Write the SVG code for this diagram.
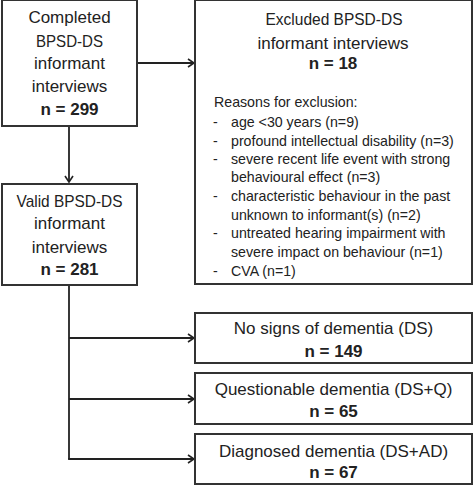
<svg xmlns="http://www.w3.org/2000/svg" width="474" height="486" viewBox="0 0 474 486">
<defs>
<marker id="arr" markerWidth="10" markerHeight="10" refX="7" refY="5" orient="auto" markerUnits="userSpaceOnUse">
<path d="M1,1 L7,5 L1,9" fill="none" stroke="#222" stroke-width="1.6"/>
</marker>
</defs>
<style>
.box{fill:#fff;stroke:#333;stroke-width:2}
.t{font-family:"Liberation Sans",Arial,sans-serif;font-size:17px;fill:#222;text-anchor:middle}
.b{font-weight:bold}
.s{font-family:"Liberation Sans",Arial,sans-serif;font-size:14.2px;fill:#222}
.c{fill:none;stroke:#222;stroke-width:1.8}
</style>
<rect width="474" height="486" fill="#fff"/>
<g id="connectors">
<line class="c" x1="137" y1="63" x2="194" y2="63" marker-end="url(#arr)"/>
<line class="c" x1="69" y1="126" x2="69" y2="182" marker-end="url(#arr)"/>
<line class="c" x1="69" y1="285" x2="69" y2="459"/>
<line class="c" x1="69" y1="338" x2="194" y2="338" marker-end="url(#arr)"/>
<line class="c" x1="69" y1="399" x2="194" y2="399" marker-end="url(#arr)"/>
<line class="c" x1="68.1" y1="459" x2="194" y2="459" marker-end="url(#arr)"/>
</g>
<g id="completed">
<rect class="box" x="2" y="0" width="135" height="126"/>
<text class="t" x="69.5" y="23">Completed</text>
<text class="t" x="69.5" y="47" textLength="67" lengthAdjust="spacingAndGlyphs">BPSD-DS</text>
<text class="t" x="69.5" y="69">informant</text>
<text class="t" x="69.5" y="92">interviews</text>
<text class="t b" x="69.5" y="115">n = 299</text>
</g>
<g id="excluded">
<rect class="box" x="195" y="0" width="277" height="284"/>
<text class="t" x="334" y="25" textLength="137" lengthAdjust="spacingAndGlyphs">Excluded BPSD-DS</text>
<text class="t" x="333" y="49">informant interviews</text>
<text class="t b" x="333" y="69">n = 18</text>
<text class="s" x="214" y="107">Reasons for exclusion:</text>
<text class="s" x="213" y="127">-</text><text class="s" x="231" y="127">age &lt;30 years (n=9)</text>
<text class="s" x="213" y="146">-</text><text class="s" x="231" y="146">profound intellectual disability (n=3)</text>
<text class="s" x="213" y="164">-</text><text class="s" x="231" y="164">severe recent life event with strong</text>
<text class="s" x="231" y="182">behavioural effect (n=3)</text>
<text class="s" x="213" y="201">-</text><text class="s" x="231" y="201">characteristic behaviour in the past</text>
<text class="s" x="231" y="220">unknown to informant(s) (n=2)</text>
<text class="s" x="213" y="238">-</text><text class="s" x="231" y="238">untreated hearing impairment with</text>
<text class="s" x="231" y="257">severe impact on behaviour  (n=1)</text>
<text class="s" x="213" y="276">-</text><text class="s" x="231" y="276">CVA (n=1)</text>
</g>
<g id="valid">
<rect class="box" x="2" y="184" width="135" height="101"/>
<text class="t" x="69.5" y="207" textLength="106" lengthAdjust="spacingAndGlyphs">Valid BPSD-DS</text>
<text class="t" x="69.5" y="229">informant</text>
<text class="t" x="69.5" y="253">interviews</text>
<text class="t b" x="69.5" y="275">n = 281</text>
</g>
<g id="nosigns">
<rect class="box" x="195" y="313" width="277" height="50"/>
<text class="t" x="333.5" y="334">No signs of dementia (DS)</text>
<text class="t b" x="333.5" y="357">n = 149</text>
</g>
<g id="questionable">
<rect class="box" x="195" y="373" width="277" height="51"/>
<text class="t" x="333.5" y="395">Questionable dementia (DS+Q)</text>
<text class="t b" x="333.5" y="417">n = 65</text>
</g>
<g id="diagnosed">
<rect class="box" x="195" y="434" width="277" height="50"/>
<text class="t" x="333.5" y="457">Diagnosed dementia (DS+AD)</text>
<text class="t b" x="333.5" y="478">n = 67</text>
</g>
</svg>
